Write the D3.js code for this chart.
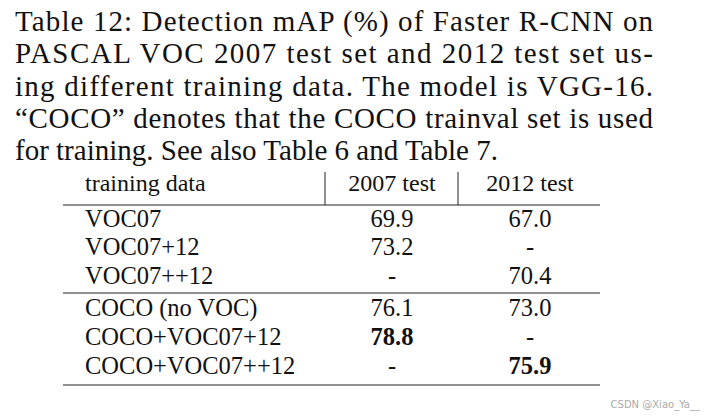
<!DOCTYPE html>
<html><head><meta charset="utf-8">
<script src="https://cdn.jsdelivr.net/npm/d3@7"></script>
<style>body{margin:0;background:#fff}</style></head>
<body><svg id="c" width="709" height="416"></svg>
<script>
const captionLines = [
  "Table 12: Detection mAP (%) of Faster R-CNN on",
  "PASCAL VOC 2007 test set and 2012 test set us-",
  "ing different training data. The model is VGG-16.",
  "\u201cCOCO\u201d denotes that the COCO trainval set is used",
  "for training. See also Table 6 and Table 7."
];
const headers = ["training data", "2007 test", "2012 test"];
const trainingData = ["VOC07","VOC07+12","VOC07++12","COCO (no VOC)","COCO+VOC07+12","COCO+VOC07++12"];
const test2007 = ["69.9","73.2","-","76.1","78.8","-"];
const test2012 = ["67.0","-","70.4","73.0","-","75.9"];
const bold2007 = [false,false,false,false,true,false];
const bold2012 = [false,false,false,false,false,true];

const svg = d3.select("#c");
const font = "'Liberation Serif', serif";
svg.selectAll("text.cap").data(captionLines).enter().append("text")
  .attr("x", 15).attr("y", (d,i)=>31+i*32.3)
  .attr("font-family", font).attr("font-size", 29).attr("fill","#111")
  .attr("textLength", (d,i)=> i<captionLines.length-1 ? 638 : null)
  .attr("lengthAdjust","spacing")
  .text(d=>d);

const rowY = [227,255,284,316,345,374];
const colX = [85, 392, 530];
svg.selectAll("text.h").data(headers).enter().append("text")
  .attr("x",(d,i)=>colX[i]).attr("y",191).attr("text-anchor",(d,i)=>i?"middle":"start")
  .attr("font-family",font).attr("font-size",24).attr("fill","#111").text(d=>d);
const g = svg.append("g");
trainingData.forEach((d,i)=>{
  const vals=[[d,false],[test2007[i],bold2007[i]],[test2012[i],bold2012[i]]];
  vals.forEach((v,j)=>g.append("text").attr("x",colX[j]).attr("y",rowY[i])
    .attr("text-anchor",j?"middle":"start").attr("font-family",font).attr("font-size",24.5)
    .attr("font-weight",v[1]?"bold":"normal").attr("fill","#111").text(v[0]));
});
[205,293,385].forEach(yy=>svg.append("line").attr("x1",63).attr("x2",600).attr("y1",yy).attr("y2",yy).attr("stroke","#222").attr("stroke-width",1.2));
[325,458].forEach(x=>svg.append("line").attr("x1",x).attr("x2",x).attr("y1",172).attr("y2",205).attr("stroke","#222"));
svg.append("text").attr("x",700).attr("y",408).attr("text-anchor","end").attr("font-family","'DejaVu Sans'").attr("font-size",10).attr("fill","#aaa").text("CSDN @Xiao_Ya__");
</script></body></html>
